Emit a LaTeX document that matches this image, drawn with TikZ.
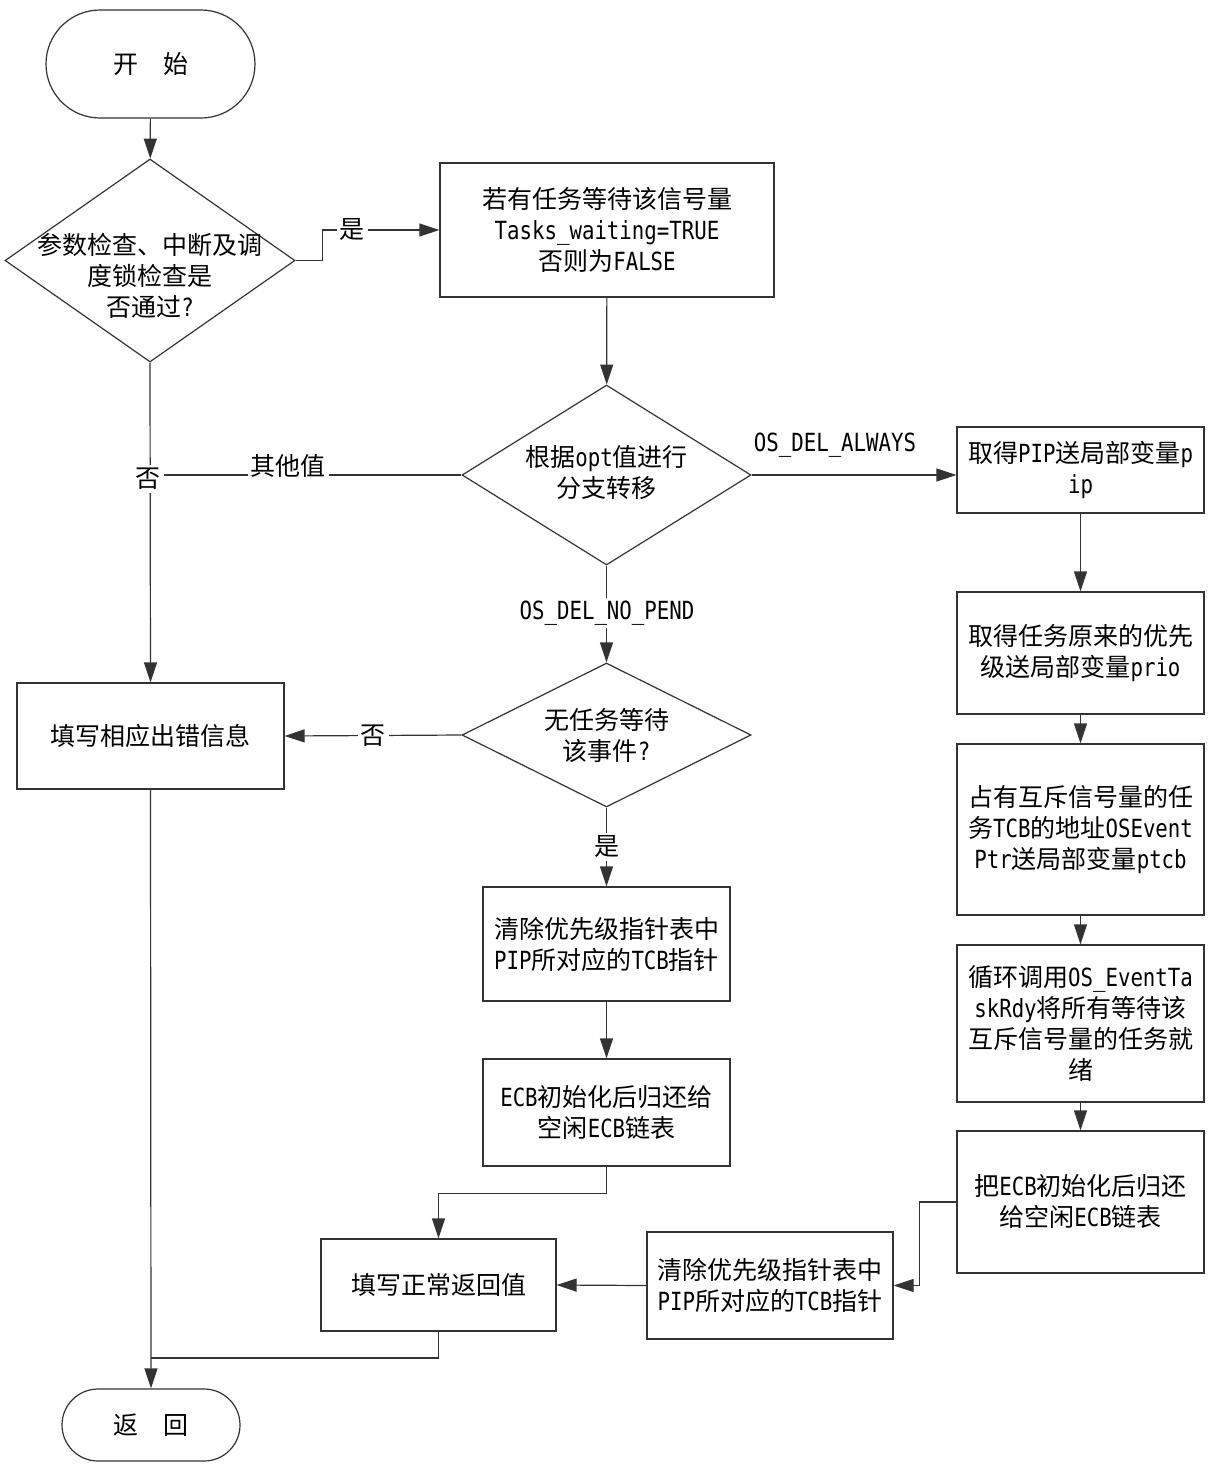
\documentclass[tikz,border=0pt]{standalone}
\usepackage{fontspec}
\setmainfont{Noto Sans CJK SC}
\newfontfamily\latf{DejaVu Sans Mono}[FakeStretch=0.83]
\newcommand\La[1]{{\latf #1}}
\usetikzlibrary{shapes.geometric,arrows.meta,calc}
\definecolor{ln}{HTML}{333333}
\begin{document}
\begin{tikzpicture}[x=0.5pt,y=-0.5pt,
  font=\fontsize{12.5pt}{15.5pt}\selectfont,
  bx/.style 2 args={draw=ln, line width=0.6pt, minimum width=#1*0.5pt, minimum height=#2*0.5pt, inner sep=1pt, align=center},
  term/.style 2 args={draw=ln, line width=0.6pt, minimum width=#1*0.5pt, minimum height=#2*0.5pt, rounded corners=#2*0.25pt, inner sep=1pt},
  dia/.style 2 args={draw=ln, line width=0.6pt, diamond, inner sep=0pt, minimum width=#1*0.5pt, minimum height=#2*0.5pt},
  txt/.style={align=center, inner sep=0pt},
  lab/.style={fill=white, inner sep=1.5pt},
  arr/.style={draw=ln, line width=0.6pt, -{Triangle[length=10pt,width=6.5pt]}},
  con/.style={draw=ln, line width=0.6pt}]
\useasboundingbox (0,0) rectangle (1211,1473);

% nodes
\node[term={209}{108}] (start) at (150.5,64) {开　始};
\node[dia={290}{203}] (d1) at (150,260.5) {};
\node[txt] (d1t) at (150,276) {参数检查、中断及调\\度锁检查是\\否通过\La{?}};
\node[bx={334}{134}] (b1) at (607,230) {若有任务等待该信号量\\\La{Tasks\_waiting=TRUE}\\否则为\La{FALSE}};
\node[dia={289}{180}] (d2) at (606.5,475) {};
\node[txt] (d2t) at (606.5,473) {根据\La{opt}值进行\\分支转移};
\node[bx={267}{106}] (err) at (150.5,736) {填写相应出错信息};
\node[dia={289}{144}] (d3) at (606.5,735) {};
\node[txt] (d3t) at (606.5,735) {无任务等待\\该事件\La{?}};
\node[bx={247}{114}] (b3) at (606.5,944) {清除优先级指针表中\\\La{PIP}所对应的\La{TCB}指针};
\node[bx={247}{107}] (b4) at (606.5,1112.5) {\La{ECB}初始化后归还给\\空闲\La{ECB}链表};
\node[bx={235}{92}] (b5) at (438.5,1285) {填写正常返回值};
\node[bx={246}{107}] (b6) at (770,1285.5) {清除优先级指针表中\\\La{PIP}所对应的\La{TCB}指针};
\node[term={178}{72}] (ret) at (151,1425) {返　回};
\node[bx={247}{86}] (r1) at (1080.5,470) {取得\La{PIP}送局部变量\La{p}\\\La{ip}};
\node[bx={247}{122}] (r2) at (1080.5,653) {取得任务原来的优先\\级送局部变量\La{prio}};
\node[bx={247}{171}] (r3) at (1080.5,829.5) {占有互斥信号量的任\\务\La{TCB}的地址\La{OSEvent}\\\La{Ptr}送局部变量\La{ptcb}};
\node[bx={247}{157}] (r4) at (1080.5,1023.5) {循环调用\La{OS\_EventTa}\\\La{skRdy}将所有等待该\\互斥信号量的任务就\\绪};
\node[bx={247}{142}] (r5) at (1080.5,1202) {把\La{ECB}初始化后归还\\给空闲\La{ECB}链表};

\coordinate (j1) at (d2.west -| d1.south);
\coordinate (j2) at (b5.south |- 0,1358);

% connectors
\draw[arr] (start) -- (d1);
\draw[arr] (d1.east) -- ++(27,0) |- (b1.west);
\draw[arr] (b1) -- (d2);
\draw[arr] (d2.east) -- (d2.east -| r1.west);
\draw[con] (d2.west) -- (j1);
\draw[arr] (d1.south) -- (err.north);
\draw[arr] (d2) -- (d3);
\draw[arr] (d3.west) -- (err.east);
\draw[arr] (d3) -- (b3);
\draw[arr] (b3) -- (b4);
\draw[arr] (b4.south) -- ++(0,27) -| (b5.north);
\draw[con] (b5.south) |- (j2 -| err.south);
\draw[arr] (err.south) -- (ret.north);
\draw[arr] (r1) -- (r2);
\draw[arr] (r2) -- (r3);
\draw[arr] (r3) -- (r4);
\draw[arr] (r4) -- (r5);
\draw[arr] (r5.west) -- ++(-37,0) |- (b6.east);
\draw[arr] (b6.west) -- (b5.east);

% labels
\node[lab] (l1) at (352,230) {是};
\node[lab] (l2) at (148,479) {否};
\node[lab] (l3) at (288,466) {其他值};
\node[inner sep=1pt] (l4) at (835,445) {\La{OS\_DEL\_ALWAYS}};
\node[lab] (l5) at (607,613) {\La{OS\_DEL\_NO\_PEND}};
\node[lab] (l6) at (373,736) {否};
\node[lab] (l7) at (607,847) {是};
\end{tikzpicture}
\end{document}
